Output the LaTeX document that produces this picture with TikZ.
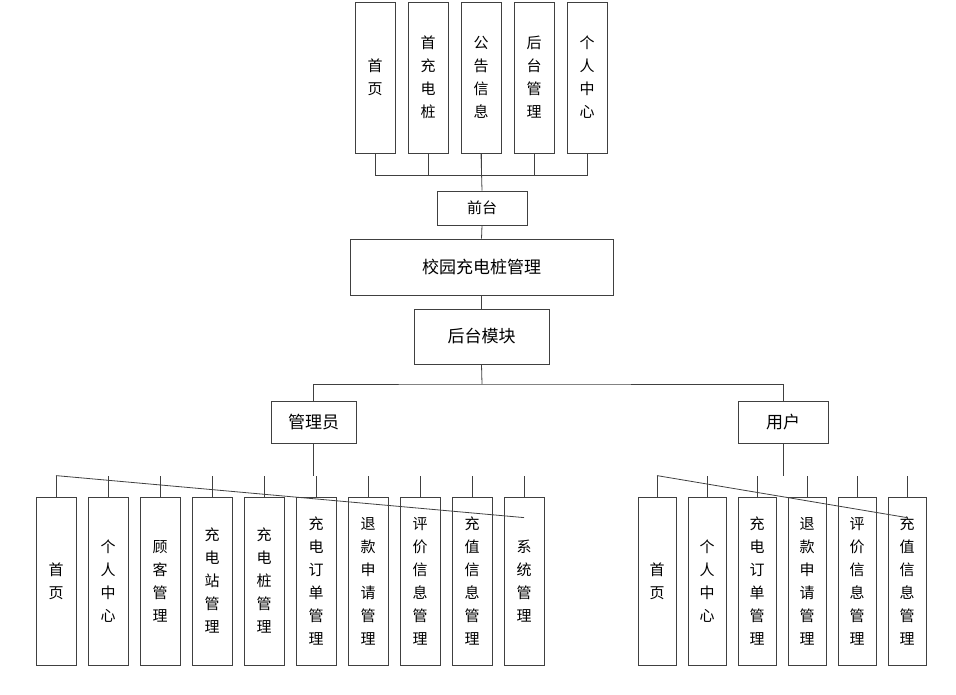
\documentclass[tikz,border=0pt]{standalone}
\usepackage{fontspec}
\newfontfamily\cjk{Noto Sans CJK SC}
\begin{document}
\begin{tikzpicture}[x=1pt,y=-1pt,
 bx/.style={draw=black!75,line width=0.8pt,inner sep=0pt,font=\cjk\fontsize{15}{23}\selectfont,align=center},
 ln/.style={draw=black!75,line width=0.8pt}]
\useasboundingbox (0,0) rectangle (956,694);
% top
\foreach \n/\x/\t in {t1/375/{首\\页},t2/428/{首\\充\\电\\桩},t3/481/{公\\告\\信\\息},t4/534/{后\\台\\管\\理},t5/587/{个\\人\\中\\心}}
  \node[bx,minimum width=40pt,minimum height=151pt] (\n) at (\x,77.5) {\t};
\node[bx,minimum width=90pt,minimum height=34pt] (qt) at (482,208) {前台};
\node[bx,minimum width=263pt,minimum height=56pt,font=\cjk\fontsize{17}{20}\selectfont] (xy) at (481.5,267) {校园充电桩管理};
\node[bx,minimum width=135pt,minimum height=55pt,font=\cjk\fontsize{17}{20}\selectfont] (ht) at (481.5,336.5) {后台模块};
\node[bx,minimum width=85pt,minimum height=42pt,font=\cjk\fontsize{17}{20}\selectfont] (gl) at (313.5,422) {管理员};
\node[bx,minimum width=90pt,minimum height=42pt,font=\cjk\fontsize{17}{20}\selectfont] (yh) at (783,422) {用户};
\coordinate (bt) at (482,175);
\foreach \n in {t1,t2,t3,t4,t5} \draw[ln] (\n.south) |- (bt);
\draw[ln] (t1.south|-bt) -- (t5.south|-bt);
\draw[ln] (t3.south) -- (qt.north);
\draw[ln] (qt.south) -- (xy.north);
\draw[ln] (xy.south) -- (ht.north);
\coordinate (b2) at (482,384);
\draw[ln] (ht.south) -- (b2);
\draw[ln] (gl.north) |- (b2) -| (yh.north);
% admin children
\foreach \i/\t in {0/{首\\页},1/{个\\人\\中\\心},2/{顾\\客\\管\\理},3/{充\\电\\站\\管\\理},4/{充\\电\\桩\\管\\理},5/{充\\电\\订\\单\\管\\理},6/{退\\款\\申\\请\\管\\理},7/{评\\价\\信\\息\\管\\理},8/{充\\值\\信\\息\\管\\理},9/{系\\统\\管\\理}}{
  \node[bx,minimum width=40pt,minimum height=168pt] (a\i) at ({56+52*\i},581) {\t};
  \draw[ln] (a\i.north) -- ++(0,-21);}
\draw[ln] (a0.north)++(0,-21) -- ([yshift=-21pt]a9.north);
\draw[ln] (gl.south) -- (313.5,476);
% user children
\foreach \i/\t in {0/{首\\页},1/{个\\人\\中\\心},2/{充\\电\\订\\单\\管\\理},3/{退\\款\\申\\请\\管\\理},4/{评\\价\\信\\息\\管\\理},5/{充\\值\\信\\息\\管\\理}}{
  \node[bx,minimum width=38pt,minimum height=168pt] (u\i) at ({657+50*\i},581) {\t};
  \draw[ln] (u\i.north) -- ++(0,-21);}
\draw[ln] (u0.north)++(0,-21) -- ([yshift=-21pt]u5.north);
\draw[ln] (yh.south) -- (783,476);
\end{tikzpicture}
\end{document}
